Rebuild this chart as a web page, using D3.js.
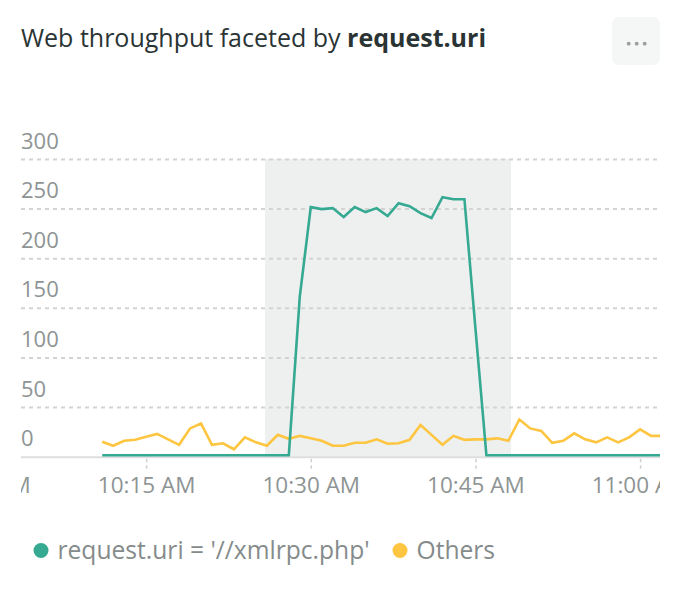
<!DOCTYPE html>
<html><head><meta charset="utf-8">
<script src="https://cdn.jsdelivr.net/npm/d3@7"></script>
<style>
body{margin:0;background:#fff;}
svg{display:block;font-family:"Open Sans",sans-serif;}
</style>
</head><body>
<svg id="chart" width="688" height="592"></svg>
<script>
// ---- data ----
const seriesNames = ["request.uri = '//xmlrpc.php'", "Others"];
const seriesColors = ["#35a992", "#fdc540"];
const startTime = "10:11";          // first sample, one sample per minute
const xmlrpcValues = [
  0,0,0,0,0,0,0,0,0,0,0,0,0,0,0,0,0,0,
  160,250,248,249,240,250,245,249,241,254,251,244,239,260,258,258,128,
  0,0,0,0,0,0,0,0,0,0,0,0,0,0,0,0,0
];
const othersValues = [
  15,11,16,17,20,23,17.5,12,28.5,33.5,12,13.5,7.5,19.5,14.5,11,22,18,21,18.5,16,11,11,14,
  14,17.5,13,13.5,17,32,22,12,21,17,17.5,17.5,18.5,16,37.5,28.5,26,14,16,23.5,17.5,14.5,19.5,14.5,19.5,27.5,21,21
];
const yTicks = [0,50,100,150,200,250,300];
const xTickTimes = ["10:00","10:15","10:30","10:45","11:00"];
const xDomainTimes = ["10:03:36","11:01:49"];
const highlightTimes = ["10:25:50","10:48:15"];

// ---- helpers ----
const parseT = s => { const p = s.split(":").map(Number); return new Date(2020,0,1,p[0],p[1],p[2]||0); };
const t0 = parseT(startTime);
const times = xmlrpcValues.map((_, i) => d3.timeMinute.offset(t0, i));

const svg = d3.select("#chart");
const left = 21, right = 660;

const x = d3.scaleTime().domain(xDomainTimes.map(parseT)).range([left, right]);
const y = d3.scaleLinear().domain([0, 300]).range([456.7, 159]);

svg.append("defs").append("clipPath").attr("id","clip")
  .append("rect").attr("x", left).attr("y", 0).attr("width", right-left).attr("height", 592);

// title
const title = svg.append("text").attr("x", 21).attr("y", 47)
  .attr("font-size", 25).attr("fill", "#2a3434");
title.append("tspan").text("Web throughput faceted by ");
title.append("tspan").attr("font-weight", 700).text("request.uri");

// menu button
svg.append("rect").attr("x", 612).attr("y", 17).attr("width", 48).attr("height", 48)
  .attr("rx", 7).attr("fill", "#f5f7f7");
svg.selectAll("circle.dot").data([-8,0,8]).enter().append("circle")
  .attr("cx", d => 636.7 + d).attr("cy", 43.7).attr("r", 1.9).attr("fill", "#9a9d9d");

// highlight band
const hl = highlightTimes.map(parseT);
svg.append("rect").attr("x", x(hl[0])).attr("y", y(300))
  .attr("width", x(hl[1]) - x(hl[0])).attr("height", y(0) - y(300))
  .attr("fill", "#eef0ef");

// y axis (gridlines + labels)
const yAxis = d3.axisRight(y).tickValues(yTicks).tickSize(right - left).tickFormat(d3.format("d"));
const gy = svg.append("g").attr("transform", `translate(${left},0)`).call(yAxis);
gy.select(".domain").remove();
gy.selectAll(".tick line")
  .attr("stroke", d => d === 0 ? "#dedede" : "#d3d3d3")
  .attr("stroke-width", 2)
  .attr("stroke-dasharray", d => d === 0 ? null : "4,4");
gy.selectAll(".tick text")
  .attr("x", 0).attr("y", -11).attr("dy", 0)
  .attr("text-anchor", "start")
  .attr("font-size", 22).attr("font-family", "Open Sans")
  .attr("fill", "#8e9494");

// x axis
const xAxis = d3.axisBottom(x).tickValues(xTickTimes.map(parseT))
  .tickSize(14).tickFormat(d3.timeFormat("%-I:%M %p"));
const gx = svg.append("g").attr("transform", `translate(0,${y(0)})`)
  .attr("clip-path", "url(#clip)").call(xAxis);
gx.select(".domain").remove();
gx.selectAll(".tick line").attr("y1", 2).attr("y2", 14)
  .attr("stroke", "#cfcfcf").attr("stroke-width", 1.5).attr("stroke-dasharray", "3.5,3");
gx.selectAll(".tick text").attr("y", 36).attr("dy", 0)
  .attr("font-size", 22.5).attr("font-family", "Open Sans").attr("fill", "#8e9494");

// lines
const gl = svg.append("g").attr("clip-path", "url(#clip)");
gl.append("path").datum(othersValues)
  .attr("d", d3.line().x((d, i) => x(times[i])).y(d => y(d)))
  .attr("fill", "none").attr("stroke", seriesColors[1]).attr("stroke-width", 2.6)
  .attr("stroke-linejoin", "miter");
gl.append("path").datum(xmlrpcValues)
  .attr("d", d3.line().x((d, i) => x(times[i])).y(d => y(d) - 1.5))
  .attr("fill", "none").attr("stroke", seriesColors[0]).attr("stroke-width", 2.6)
  .attr("stroke-linejoin", "miter");

// legend
const legendX = [41, 400];
const lg = svg.append("g");
seriesNames.forEach((n, i) => {
  lg.append("circle").attr("cx", legendX[i]).attr("cy", 550.5).attr("r", 7.5).attr("fill", seriesColors[i]);
  lg.append("text").attr("x", legendX[i] + 16.5).attr("y", 559.3).attr("font-size", 24.6)
    .attr("fill", "#858b8b").text(n);
});
</script>
</body></html>
